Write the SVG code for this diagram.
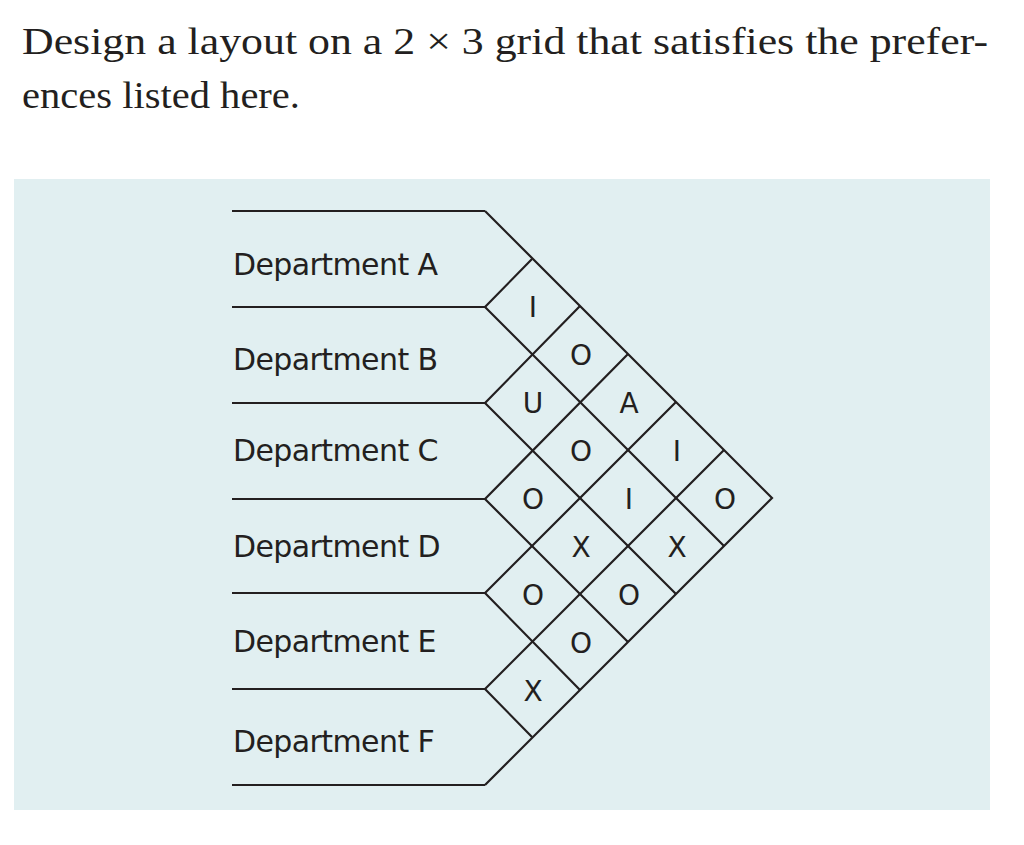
<svg xmlns="http://www.w3.org/2000/svg" width="1024" height="845" viewBox="0 0 1024 845">
<style>
.t{font-family:"Liberation Serif",serif;font-size:37px;fill:#231f20}
.d{font-family:"DejaVu Sans","Liberation Sans",sans-serif;font-size:30px;fill:#231f20;letter-spacing:-0.6px}
.c{font-family:"DejaVu Sans","Liberation Sans",sans-serif;font-size:28px;fill:#231f20;text-anchor:middle}
.l{stroke:#231f20;stroke-width:2.2;fill:none}
</style>
<rect width="1024" height="845" fill="#fff"/>
<text class="t" x="22" y="54" textLength="966" lengthAdjust="spacingAndGlyphs">Design a layout on a 2 × 3 grid that satisfies the prefer-</text>
<text class="t" x="22" y="108" textLength="278" lengthAdjust="spacingAndGlyphs">ences listed here.</text>
<rect x="14" y="179" width="976" height="631" fill="#e1eff1"/>
<g id="connectors" class="l">
<path d="M232 211H485M232 307H485M232 403H485M232 499H485M232 593H485M232 689H485M232 785H485"/>
<path d="M485 211L772 498L485 785"/>
<path d="M485 307L724 546M485 403L676 594M485 499L628 642M485 593L580 690M485 689L532 737"/>
<path d="M485 689L724 450M485 593L676 402M485 499L628 354M485 403L580 306M485 307L532 259"/>
</g>
<g id="departments">
<text class="d" x="233" y="275">Department A</text>
<text class="d" x="233" y="370">Department B</text>
<text class="d" x="233" y="461">Department C</text>
<text class="d" x="233" y="557">Department D</text>
<text class="d" x="233" y="652">Department E</text>
<text class="d" x="233" y="752">Department F</text>
</g>
<g id="cells">
<text class="c" x="533" y="317">I</text>
<text class="c" x="581" y="365">O</text>
<text class="c" x="629" y="413">A</text>
<text class="c" x="677" y="461">I</text>
<text class="c" x="725" y="509">O</text>
<text class="c" x="533" y="413">U</text>
<text class="c" x="581" y="461">O</text>
<text class="c" x="629" y="509">I</text>
<text class="c" x="677" y="557">X</text>
<text class="c" x="533" y="509">O</text>
<text class="c" x="581" y="557">X</text>
<text class="c" x="629" y="605">O</text>
<text class="c" x="533" y="605">O</text>
<text class="c" x="581" y="653">O</text>
<text class="c" x="533" y="701">X</text>
</g>
</svg>
